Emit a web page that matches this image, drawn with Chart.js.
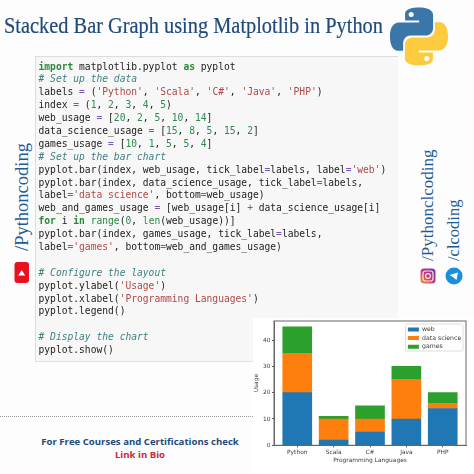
<!DOCTYPE html>
<html><head><meta charset="utf-8">
<script src="https://cdn.jsdelivr.net/npm/chart.js@4/dist/chart.umd.min.js"></script>
<style>
html,body{margin:0;padding:0;width:474px;height:474px;overflow:hidden;background:#fdfdfd}
.abs{position:absolute}
#title{left:4px;top:13px;font:22.5px "Liberation Serif",serif;color:#1f4a7c;white-space:nowrap;transform-origin:0 0;transform:scaleX(.905);-webkit-text-stroke:.2px #1f4a7c}
#panel{left:35px;top:56px;width:363px;height:306px;background:#f7f7f7;border-top:1px solid #ddd;border-left:1px solid #ddd;border-bottom:1px solid #e2e2e2;box-sizing:border-box}
#code{left:38.5px;top:60.5px;margin:0;font:9.63px/12.9px "DejaVu Sans Mono",monospace;color:#222;white-space:pre;filter:blur(.25px)}
#code div{height:12.9px}
.k{color:#2a8a3a;font-weight:bold}.c{color:#3f8080;font-style:italic}.s{color:#b04848}.n{color:#2f8a50}.o{color:#7a55b0}.b{color:#2a8a3a}
.v{font:18.5px "Liberation Serif",serif;color:#1f5a95;white-space:nowrap;transform-origin:0 0;transform:rotate(-90deg)}
#chartbox{left:253px;top:318px;width:221px;height:156px;background:#fff}
#rule{left:0;top:415.5px;width:253px;border-top:1.5px dotted #999}
.foot{left:0;width:280px;text-align:center;font:bold 9.6px "Open Sans",sans-serif;white-space:nowrap}
canvas{filter:blur(.35px)}
</style></head><body>
<div class="abs" id="title">Stacked Bar Graph using Matplotlib in Python</div>
<svg class="abs" style="left:390px;top:7px" width="58" height="59" viewBox="0 0 110 110">
<path fill="#3a76a8" d="M54.9 0C26.9 0 28.6 12.2 28.6 12.2l0 12.6h26.7v3.8H18S0 26.5 0 54.8c0 28.2 15.6 27.2 15.6 27.2h9.3V68.9s-.5-15.6 15.4-15.6h26.5s14.9.2 14.9-14.4V14.7S84 0 54.9 0zM40.2 8.5a4.8 4.8 0 1 1 0 9.6 4.8 4.8 0 0 1 0-9.6z"/>
<path fill="#fdcb3e" transform="rotate(180 55 55)" d="M54.9 0C26.9 0 28.6 12.2 28.6 12.2l0 12.6h26.7v3.8H18S0 26.5 0 54.8c0 28.2 15.6 27.2 15.6 27.2h9.3V68.9s-.5-15.6 15.4-15.6h26.5s14.9.2 14.9-14.4V14.7S84 0 54.9 0zM40.2 8.5a4.8 4.8 0 1 1 0 9.6 4.8 4.8 0 0 1 0-9.6z"/>
</svg>
<div class="abs" id="panel"></div>
<pre class="abs" id="code"><span class="k">import</span> matplotlib.pyplot <span class="k">as</span> pyplot
<span class="c"># Set up the data</span>
labels <span class="o">=</span> (<span class="s">'Python'</span>, <span class="s">'Scala'</span>, <span class="s">'C#'</span>, <span class="s">'Java'</span>, <span class="s">'PHP'</span>)
index <span class="o">=</span> (<span class="n">1</span>, <span class="n">2</span>, <span class="n">3</span>, <span class="n">4</span>, <span class="n">5</span>)
web_usage <span class="o">=</span> [<span class="n">20</span>, <span class="n">2</span>, <span class="n">5</span>, <span class="n">10</span>, <span class="n">14</span>]
data_science_usage <span class="o">=</span> [<span class="n">15</span>, <span class="n">8</span>, <span class="n">5</span>, <span class="n">15</span>, <span class="n">2</span>]
games_usage <span class="o">=</span> [<span class="n">10</span>, <span class="n">1</span>, <span class="n">5</span>, <span class="n">5</span>, <span class="n">4</span>]
<span class="c"># Set up the bar chart</span>
pyplot.bar(index, web_usage, tick_label<span class="o">=</span>labels, label<span class="o">=</span><span class="s">'web'</span>)
pyplot.bar(index, data_science_usage, tick_label<span class="o">=</span>labels,
label<span class="o">=</span><span class="s">'data science'</span>, bottom<span class="o">=</span>web_usage)
web_and_games_usage <span class="o">=</span> [web_usage[i] <span class="o">+</span> data_science_usage[i]
<span class="k">for</span> i <span class="k">in</span> <span class="b">range</span>(<span class="n">0</span>, <span class="b">len</span>(web_usage))]
pyplot.bar(index, games_usage, tick_label<span class="o">=</span>labels,
label<span class="o">=</span><span class="s">'games'</span>, bottom<span class="o">=</span>web_and_games_usage)

<span class="c"># Configure the layout</span>
pyplot.ylabel(<span class="s">'Usage'</span>)
pyplot.xlabel(<span class="s">'Programming Languages'</span>)
pyplot.legend()

<span class="c"># Display the chart</span>
pyplot.show()</pre>
<div class="abs v" style="left:12px;top:251px">/Pythoncoding</div>
<svg class="abs" style="left:14px;top:262px" width="16" height="22"><rect x=".5" y="0" width="14.5" height="21" rx="3" fill="#e8121f"/><path d="M7.7 8 L11.2 13.5 L4.2 13.5Z" fill="#fff"/></svg>
<div class="abs v" style="left:418px;top:261px;font-size:17px">/Pythonclcoding</div>
<div class="abs v" style="left:444px;top:261px;font-size:16.5px">/clcoding</div>
<svg class="abs" style="left:420px;top:268px" width="16" height="16"><defs><linearGradient id="ig" x1="0" y1="1" x2="1" y2="0"><stop offset="0" stop-color="#f0a030"/><stop offset=".5" stop-color="#c8308a"/><stop offset="1" stop-color="#6a3ac0"/></linearGradient></defs><rect x=".5" y=".5" width="15" height="15" rx="3.5" fill="url(#ig)"/><rect x="3" y="3" width="10" height="10" rx="2.5" fill="none" stroke="#f4e6d0" stroke-width="1.2"/><circle cx="8" cy="8" r="2.4" fill="none" stroke="#f4e6d0" stroke-width="1.2"/></svg>
<svg class="abs" style="left:445px;top:267px" width="18" height="18"><circle cx="9" cy="9" r="8.5" fill="#1a8fe0"/><path d="M4.5 8 L13 5.5 L11.5 13 L8.5 10.5Z" fill="#fff"/></svg>
<div class="abs" id="rule"></div>
<div class="abs foot" style="top:435px;color:#1f4a7c">For Free Courses and Certifications check</div>
<div class="abs foot" style="top:448px;color:#c8283c">Link in Bio</div>
<div class="abs" id="chartbox"><canvas id="c" width="221" height="156"></canvas></div>
<script>
const categories = ['Python','Scala','C#','Java','PHP'];
const positions = [1,2,3,4,5];
const webUsage = [20,2,5,10,14];
const dataScienceUsage = [15,8,5,15,2];
const gamesUsage = [10,1,5,5,4];
const yTicks = [0,10,20,30,40];
const tickFont = {family:'"DejaVu Sans"',size:5.9};
const ink = '#3a3a3a';
const pts = a => a.map((v,i)=>({x:positions[i],y:v}));
const legendW = 57.5, legendH = 27;

// Give each code line its own box and every text run its own span.
const codeEl = document.getElementById('code');
codeEl.innerHTML = codeEl.innerHTML.split('\n').map(l => '<div>' + l + '</div>').join('');
codeEl.querySelectorAll('div').forEach(d => {
  [...d.childNodes].forEach(n => {
    if (n.nodeType === 3) { const s = document.createElement('span'); s.textContent = n.textContent; d.replaceChild(s, n); }
  });
});

const frame = {
  id:'frame',
  afterLayout(chart){
    const l = chart.legend, a = chart.chartArea;
    l.left = a.right-legendW-3; l.right = a.right-3; l.width = legendW;
    l.top = a.top+3; l.bottom = a.top+3+legendH+10; l.height = legendH+10;
  },
  beforeDraw(chart){
    const {ctx} = chart, l = chart.legend;
    ctx.save();ctx.strokeStyle='#ddd';ctx.lineWidth=1;
    ctx.beginPath();ctx.roundRect(l.left,l.top,legendW,legendH,1.5);ctx.stroke();
    ctx.restore();
  },
  afterDatasetsDraw(chart){
    const {ctx,chartArea:a} = chart;
    ctx.save();ctx.strokeStyle='#666';ctx.lineWidth=1;
    ctx.strokeRect(a.left,a.top,a.right-a.left,a.bottom-a.top);
    ctx.restore();
  }
};
new Chart(document.getElementById('c'),{
  type:'bar',
  data:{datasets:[
    {label:'web',data:pts(webUsage),backgroundColor:'#1f77b4'},
    {label:'data science',data:pts(dataScienceUsage),backgroundColor:'#ff7f0e'},
    {label:'games',data:pts(gamesUsage),backgroundColor:'#2ca02c'}
  ]},
  options:{
    responsive:false,animation:false,
    barThickness:29,
    layout:{padding:{top:3,right:8,left:0,bottom:0}},
    plugins:{
      tooltip:{enabled:false},title:{display:false},
      legend:{display:true,position:'chartArea',align:'start',
        labels:{boxWidth:11,boxHeight:4,padding:2.4,color:ink,font:{family:'"DejaVu Sans"',size:6.2}}}
    },
    scales:{
      x:{type:'linear',offset:false,stacked:true,min:.36,max:5.64,
        afterBuildTicks:s=>{s.ticks=positions.map(v=>({value:v}));},
        afterFit:s=>{s.height=28.7;s.paddingLeft=0;s.paddingRight=0;},
        grid:{offset:false,drawOnChartArea:false,tickLength:2,color:'#555'},border:{color:'#666'},
        ticks:{color:ink,font:tickFont,padding:1.5,maxRotation:0,autoSkip:false,callback:v=>categories[v-1]},
        title:{display:true,text:'Programming Languages',color:ink,font:tickFont,padding:{top:1,bottom:9.5}}},
      y:{stacked:true,min:0,max:47.25,
        afterBuildTicks:s=>{s.ticks=yTicks.map(v=>({value:v}));},
        afterFit:s=>{s.width=21;s.paddingTop=0;s.paddingBottom=0;},
        grid:{drawOnChartArea:false,tickLength:2,color:'#555'},border:{color:'#666'},
        ticks:{color:ink,font:tickFont,padding:1.5},
        title:{display:true,text:'Usage',color:ink,font:tickFont,padding:0}}
    }
  },
  plugins:[frame]
});
</script>
</body></html>
